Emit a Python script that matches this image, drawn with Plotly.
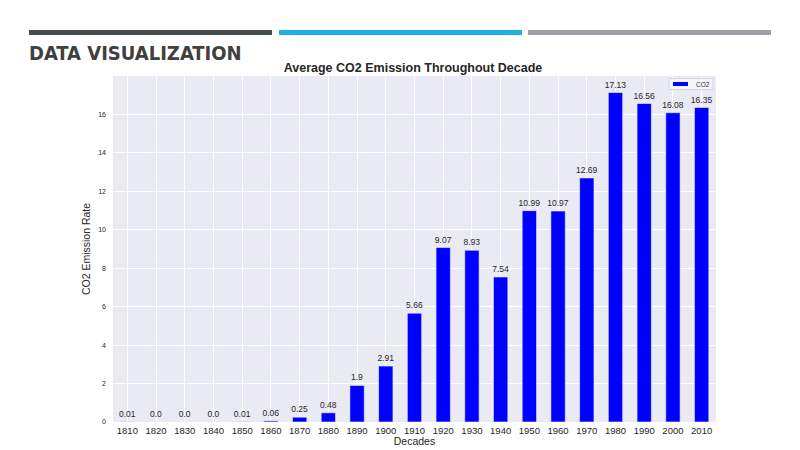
import plotly.graph_objects as go

decades = ["1810", "1820", "1830", "1840", "1850", "1860", "1870", "1880", "1890", "1900",
           "1910", "1920", "1930", "1940", "1950", "1960", "1970", "1980", "1990", "2000", "2010"]
co2 = [0.01, 0.0, 0.0, 0.0, 0.01, 0.06, 0.25, 0.48, 1.9, 2.91,
       5.66, 9.07, 8.93, 7.54, 10.99, 10.97, 12.69, 17.13, 16.56, 16.08, 16.35]
y_ticks = [0, 2, 4, 6, 8, 10, 12, 14, 16]
series_name = "CO2"

W, H = 800, 450
L, R, T, B = 113, 716, 76, 422

def px(x):
    return (x - L) / (R - L)

def py(y):
    return (B - y) / (B - T)

FONT = "Liberation Sans, Arial"
TXT = "#262626"
BLUE = "#0000FF"

fig = go.Figure()
fig.add_trace(go.Bar(
    x=decades, y=co2, name=series_name,
    marker=dict(color=BLUE, line=dict(color="#F0F0FF", width=0.6)),
    width=0.5,
    text=[str(v) for v in co2], textposition="outside",
    textfont=dict(family=FONT, size=8.5, color=TXT),
    constraintext="none",
    cliponaxis=False,
    showlegend=False,
))

fig.update_layout(
    width=W, height=H,
    margin=dict(l=L, r=W - R, t=T, b=H - B, autoexpand=False),
    paper_bgcolor="white", plot_bgcolor="#EAEAF2",
    title=dict(text="<b>Average CO2 Emission Throughout Decade</b>",
               xref="container", x=413 / W, xanchor="center", y=1 - 68 / H, yanchor="middle",
               font=dict(family=FONT, size=12.5, color=TXT)),
    xaxis=dict(type="category", showgrid=True, gridcolor="white", gridwidth=1,
               tickfont=dict(family=FONT, size=9.5, color=TXT),
               ticks="", ticklen=0, zeroline=False, showline=False, automargin=False,
               ticklabelstandoff=1,
               title=dict(text="Decades", standoff=0,
                          font=dict(family=FONT, size=10.5, color=TXT))),
    yaxis=dict(range=[0, 17.99], tickvals=y_ticks, showgrid=True, gridcolor="white",
               gridwidth=1, zeroline=False, showline=False, automargin=False,
               tickfont=dict(family=FONT, size=7, color=TXT),
               ticks="", ticklabelstandoff=6,
               title=dict(text="CO2 Emission Rate", standoff=5,
                          font=dict(family=FONT, size=10.5, color=TXT))),
)

# compact legend box (matplotlib style)
fig.add_shape(type="rect", xref="paper", yref="paper",
              x0=px(669), x1=px(713), y0=py(89.5), y1=py(78.5),
              fillcolor="rgba(246,246,250,0.9)", line=dict(color="#D4D4DC", width=1),
              layer="above")
fig.add_shape(type="rect", xref="paper", yref="paper",
              x0=px(673), x1=px(688), y0=py(86), y1=py(82),
              fillcolor=BLUE, line=dict(width=0), layer="above")
fig.add_annotation(text=series_name, xref="paper", yref="paper",
                   x=px(694), y=py(84), xanchor="left", yanchor="middle", showarrow=False,
                   font=dict(family=FONT, size=6.5, color="#333"))

# header bars
bars = [(29, 272, "#454C50"), (279, 522, "#1EAFE5"), (528, 771, "#9AA0A6")]
for x0, x1, c in bars:
    fig.add_shape(type="rect", xref="paper", yref="paper",
                  x0=px(x0), x1=px(x1), y0=py(35), y1=py(30),
                  fillcolor=c, line=dict(width=0), layer="above")

fig.add_annotation(text="<b>DATA VISUALIZATION</b>", xref="paper", yref="paper",
                   x=px(27), y=py(53), xanchor="left", yanchor="middle", showarrow=False,
                   font=dict(family="DejaVu Sans Condensed", size=20, color="#404040"))

fig.write_html("out.html", config={"displayModeBar": False},
               post_script="document.body.style.margin='0';document.body.style.overflow='hidden';")
